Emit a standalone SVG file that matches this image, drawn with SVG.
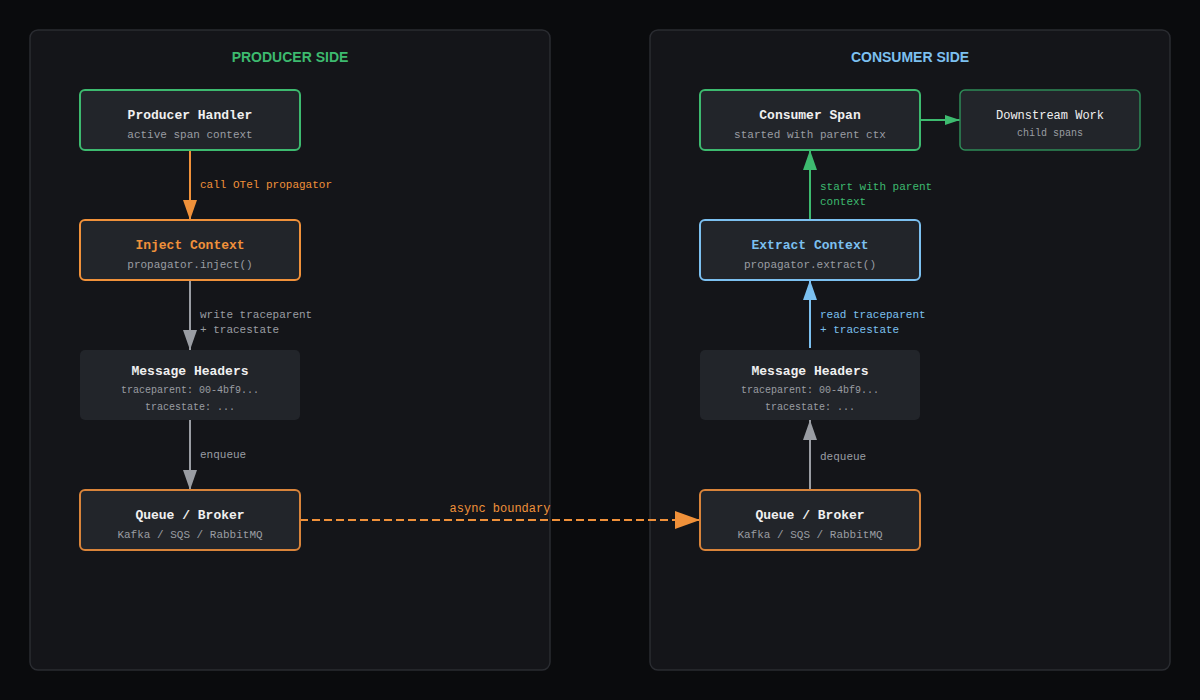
<svg xmlns="http://www.w3.org/2000/svg" width="1200" height="700" viewBox="0 0 1200 700">
<defs>
<style>
.panel{fill:#141519;stroke:#2a2c31;stroke-width:1.5}
.node{fill:#22252a;stroke-width:2}
.t{font-family:"Liberation Mono","DejaVu Sans Mono",monospace;font-size:13px;font-weight:bold;fill:#f0f0f0;text-anchor:middle}
.s{font-family:"Liberation Mono","DejaVu Sans Mono",monospace;font-size:11px;fill:#9a9da3;text-anchor:middle}
.h{font-family:"Liberation Mono","DejaVu Sans Mono",monospace;font-size:10px;fill:#9a9da3;text-anchor:middle}
.lbl{font-family:"Liberation Mono","DejaVu Sans Mono",monospace;font-size:11px}
.side{font-family:"Liberation Sans",Arial,sans-serif;font-size:14px;font-weight:bold;text-anchor:middle}
</style>
<marker id="aO" markerWidth="20" markerHeight="14" refX="20" refY="7" viewBox="0 0 20 14" markerUnits="userSpaceOnUse" orient="auto"><path d="M0,0 L20,7 L0,14 Z" fill="#f0913a"/></marker>
<marker id="aG" markerWidth="20" markerHeight="14" refX="20" refY="7" viewBox="0 0 20 14" markerUnits="userSpaceOnUse" orient="auto"><path d="M0,0 L20,7 L0,14 Z" fill="#9a9da3"/></marker>
<marker id="aN" markerWidth="20" markerHeight="14" refX="20" refY="7" viewBox="0 0 20 14" markerUnits="userSpaceOnUse" orient="auto"><path d="M0,0 L20,7 L0,14 Z" fill="#3dba6f"/></marker>
<marker id="aB" markerWidth="20" markerHeight="14" refX="20" refY="7" viewBox="0 0 20 14" markerUnits="userSpaceOnUse" orient="auto"><path d="M0,0 L20,7 L0,14 Z" fill="#7cc0f0"/></marker>
<marker id="aS" markerWidth="15" markerHeight="10" refX="15" refY="5" viewBox="0 0 15 10" markerUnits="userSpaceOnUse" orient="auto"><path d="M0,0 L15,5 L0,10 Z" fill="#3dba6f"/></marker>
<marker id="aD" markerWidth="25" markerHeight="18" refX="25" refY="9" viewBox="0 0 25 18" markerUnits="userSpaceOnUse" orient="auto"><path d="M0,0 L25,9 L0,18 Z" fill="#f0913a"/></marker>
</defs>
<rect width="1200" height="700" fill="#0a0b0d"/>
<g id="producer-panel">
<rect class="panel" x="30" y="30" width="520" height="640" rx="8"/>
<text class="side" x="290" y="62" fill="#3dba6f">PRODUCER SIDE</text>
</g>
<g id="consumer-panel">
<rect class="panel" x="650" y="30" width="520" height="640" rx="8"/>
<text class="side" x="910" y="62" fill="#7cc0f0">CONSUMER SIDE</text>
</g>
<g id="connectors" fill="none" stroke-width="2">
<line x1="190" y1="150" x2="190" y2="220" stroke="#f0913a" marker-end="url(#aO)"/>
<line x1="190" y1="280" x2="190" y2="350" stroke="#9a9da3" marker-end="url(#aG)"/>
<line x1="190" y1="420" x2="190" y2="490" stroke="#9a9da3" marker-end="url(#aG)"/>
<line x1="300" y1="520" x2="700" y2="520" stroke="#f0913a" stroke-dasharray="8,4" marker-end="url(#aD)"/>
<line x1="810" y1="490" x2="810" y2="420" stroke="#9a9da3" marker-end="url(#aG)"/>
<line x1="810" y1="348" x2="810" y2="280" stroke="#7cc0f0" marker-end="url(#aB)"/>
<line x1="810" y1="220" x2="810" y2="150" stroke="#3dba6f" marker-end="url(#aN)"/>
<line x1="920" y1="120" x2="960" y2="120" stroke="#3dba6f" marker-end="url(#aS)"/>
<text class="lbl" x="200" y="188" fill="#f0913a">call OTel propagator</text>
<text class="lbl" x="200" y="318" fill="#9a9da3">write traceparent</text>
<text class="lbl" x="200" y="333" fill="#9a9da3">+ tracestate</text>
<text class="lbl" x="200" y="458" fill="#9a9da3">enqueue</text>
<text class="lbl" x="500" y="512" fill="#f0913a" text-anchor="middle" style="font-size:12px">async boundary</text>
<text class="lbl" x="820" y="460" fill="#9a9da3">dequeue</text>
<text class="lbl" x="820" y="318" fill="#7cc0f0">read traceparent</text>
<text class="lbl" x="820" y="333" fill="#7cc0f0">+ tracestate</text>
<text class="lbl" x="820" y="190" fill="#3dba6f">start with parent</text>
<text class="lbl" x="820" y="205" fill="#3dba6f">context</text>
</g>
<g id="producer-handler">
<rect class="node" x="80" y="90" width="220" height="60" rx="5" stroke="#3dba6f"/>
<text class="t" x="190" y="119">Producer Handler</text>
<text class="s" x="190" y="138">active span context</text>
</g>
<g id="inject-context">
<rect class="node" x="80" y="220" width="220" height="60" rx="5" stroke="#f0913a"/>
<text class="t" x="190" y="249" style="fill:#f0913a">Inject Context</text>
<text class="s" x="190" y="268">propagator.inject()</text>
</g>
<g id="producer-headers">
<rect x="80" y="350" width="220" height="70" rx="5" fill="#22252a"/>
<text class="t" x="190" y="375">Message Headers</text>
<text class="h" x="190" y="393">traceparent: 00-4bf9...</text>
<text class="h" x="190" y="410">tracestate: ...</text>
</g>
<g id="producer-queue">
<rect class="node" x="80" y="490" width="220" height="60" rx="5" stroke="#d9843a"/>
<text class="t" x="190" y="519">Queue / Broker</text>
<text class="s" x="190" y="538">Kafka / SQS / RabbitMQ</text>
</g>
<g id="consumer-span">
<rect class="node" x="700" y="90" width="220" height="60" rx="5" stroke="#3dba6f"/>
<text class="t" x="810" y="119">Consumer Span</text>
<text class="s" x="810" y="138">started with parent ctx</text>
</g>
<g id="downstream-work">
<rect class="node" x="960" y="90" width="180" height="60" rx="5" stroke="#2e8b57" style="stroke-width:1.5"/>
<text class="t" x="1050" y="119" style="font-weight:normal;font-size:12px">Downstream Work</text>
<text class="h" x="1050" y="136">child spans</text>
</g>
<g id="extract-context">
<rect class="node" x="700" y="220" width="220" height="60" rx="5" stroke="#7cc0f0"/>
<text class="t" x="810" y="249" style="fill:#7cc0f0">Extract Context</text>
<text class="s" x="810" y="268">propagator.extract()</text>
</g>
<g id="consumer-headers">
<rect x="700" y="350" width="220" height="70" rx="5" fill="#22252a"/>
<text class="t" x="810" y="375">Message Headers</text>
<text class="h" x="810" y="393">traceparent: 00-4bf9...</text>
<text class="h" x="810" y="410">tracestate: ...</text>
</g>
<g id="consumer-queue">
<rect class="node" x="700" y="490" width="220" height="60" rx="5" stroke="#d9843a"/>
<text class="t" x="810" y="519">Queue / Broker</text>
<text class="s" x="810" y="538">Kafka / SQS / RabbitMQ</text>
</g>
</svg>
